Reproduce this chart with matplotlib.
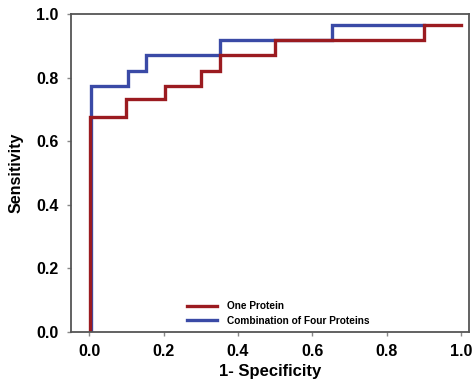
import numpy as np
import matplotlib.pyplot as plt

plt.rcParams['font.family'] = ['Liberation Sans', 'DejaVu Sans']
plt.rcParams['font.weight'] = 'bold'

# ROC steps (1 - specificity, sensitivity)
one_fpr = [0.002, 0.002, 0.100, 0.204, 0.300, 0.352, 0.500, 0.900, 1.000]
one_tpr = [0.000, 0.678, 0.733, 0.776, 0.823, 0.872, 0.920, 0.967, 0.967]

four_fpr = [0.005, 0.005, 0.103, 0.154, 0.353, 0.652, 0.900]
four_tpr = [0.000, 0.776, 0.823, 0.872, 0.920, 0.967, 0.967]

labels = ['One Protein', 'Combination of Four Proteins']
colors = ['#9b1b20', '#3a4aa6']

fig = plt.figure(figsize=(4.74, 3.83), dpi=100)
ax = fig.add_axes([0.1498, 0.1332, 0.8397, 0.8290])

# blue first so the red one sits on top where they overlap
l2, = ax.step(four_fpr, four_tpr, where='post', color=colors[1], lw=2.4, solid_joinstyle='miter')
l1, = ax.step(one_fpr, one_tpr, where='post', color=colors[0], lw=2.4, solid_joinstyle='miter')

ax.set_xlim(-0.049, 1.0215)
ax.set_ylim(0, 1.0)
ticks = np.arange(0, 1.01, 0.2)
ax.set_xticks(ticks)
ax.set_yticks(ticks)
ax.set_xticklabels(['%.1f' % v for v in ticks])
ax.set_yticklabels(['%.1f' % v for v in ticks])
ax.tick_params(colors='#888888', labelcolor='black', labelsize=11.5, length=3, width=1)
ax.tick_params(axis='x', pad=6)
ax.tick_params(axis='y', pad=6)
for s in ax.spines.values():
    s.set_color('#555555')
    s.set_linewidth(1.3)

ax.set_xlabel('1- Specificity', fontsize=12, fontweight='bold', labelpad=3)
ax.set_ylabel('Sensitivity', fontsize=11.5, fontweight='bold', labelpad=9)

ax.legend([l1, l2], labels, loc='lower left', bbox_to_anchor=(0.291, 0.02),
          frameon=False, handlelength=3.0, handletextpad=1.0,
          labelspacing=0.45, borderpad=0, borderaxespad=0,
          prop={'weight': 'bold', 'size': 7.3})

fig.savefig('out.png', dpi=100)
